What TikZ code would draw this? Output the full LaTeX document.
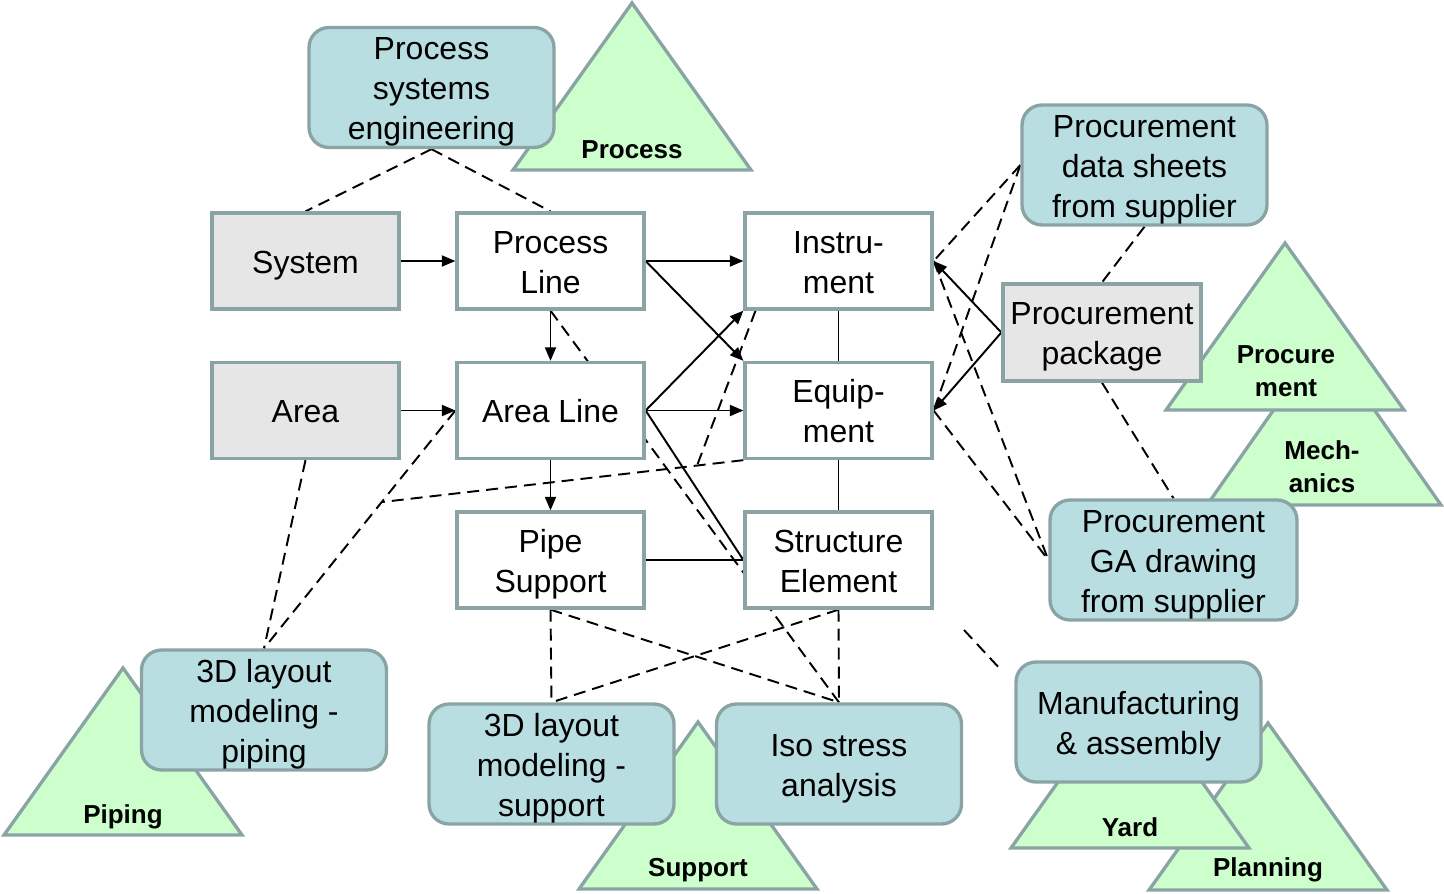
\documentclass[tikz,border=0pt]{standalone}
\usepackage{fontspec}
\setmainfont{Liberation Sans}
\usetikzlibrary{arrows.meta,calc}
\definecolor{bordc}{RGB}{138,164,166}
\definecolor{bluef}{RGB}{185,222,226}
\definecolor{greenf}{RGB}{204,255,204}
\definecolor{grayf}{RGB}{230,230,230}
\pgfdeclarelayer{tri}
\pgfdeclarelayer{lines}
\pgfsetlayers{tri,lines,main}
\newcommand\lstrut{\rule[-0.24em]{0pt}{1.24em}}
\tikzset{
 boxbase/.style={draw=bordc, line width=1.9pt, inner sep=0pt, align=center, font=\fontsize{18.2}{22.8}\selectfont},
 wbox/.style={boxbase, fill=white, minimum width=3.74cm, minimum height=1.92cm},
 gbox/.style={boxbase, fill=grayf, minimum width=3.74cm, minimum height=1.92cm},
 rbox/.style={boxbase, fill=bluef, rounded corners=0.4cm, minimum width=4.9cm, minimum height=2.4cm},
 greentri/.style={draw=bordc, fill=greenf, line width=1.9pt, line join=miter},
 trilabel/.style={inner sep=0pt, align=center, font=\bfseries\fontsize{14.8}{18.8}\selectfont},
 link/.style={line width=1.1pt},
 arr/.style={link, -{Triangle[length=0.27cm,width=0.22cm]}},
 dlink/.style={link, dash pattern=on 0.24cm off 0.14cm},
}
\begin{document}
\begin{tikzpicture}[x=0.02cm,y=-0.02cm]
\useasboundingbox (0,0) rectangle (1444,893);
% ---------- triangles ----------
\begin{pgfonlayer}{tri}
\draw[greentri] (632,3) -- (751,170) -- (513,170) -- cycle;
\node[trilabel] (tproc) at (632,150) {Process};
\draw[greentri] (1324,338) -- (1441,505) -- (1207,505) -- cycle;
\node[trilabel] (tmech) at (1322,467) {Mech-\\anics};
\draw[greentri] (1285,243) -- (1404,410) -- (1166,410) -- cycle;
\node[trilabel] (tprocu) at (1286,371) {Procure\\ment};
\draw[greentri] (1268,723) -- (1387,890) -- (1149,890) -- cycle;
\node[trilabel] (tplan) at (1268,870) {Planning};
\draw[greentri] (1130,681) -- (1249,848) -- (1011,848) -- cycle;
\node[trilabel] (tyard) at (1130,827) {Yard};
\draw[greentri] (123,668) -- (242,835) -- (4,835) -- cycle;
\node[trilabel] (tpip) at (123,817) {Piping};
\draw[greentri] (698,722) -- (817,889) -- (579,889) -- cycle;
\node[trilabel] (tsup) at (698,870) {Support};
\end{pgfonlayer}
% ---------- boxes ----------
\node[rbox] (pse) at (431.5,87.5) {\lstrut Process\\systems\\engineering\lstrut};
\node[gbox] (sys) at (305.5,261) {\lstrut System\lstrut};
\node[wbox] (pl) at (550.5,261) {\lstrut Process\\Line\lstrut};
\node[wbox] (ins) at (838.5,261) {\lstrut Instru-\\ment\lstrut};
\node[gbox] (area) at (305.5,410.5) {\lstrut Area\lstrut};
\node[wbox] (al) at (550.5,410.5) {\lstrut Area Line\lstrut};
\node[wbox] (eq) at (838.5,410.5) {\lstrut Equip-\\ment\lstrut};
\node[wbox] (ps) at (550.5,560) {\lstrut Pipe\\Support\lstrut};
\node[wbox] (se) at (838.5,560) {\lstrut Structure\\Element\lstrut};
\node[rbox] (ds) at (1144.5,165) {\lstrut Procurement\\data sheets\\from supplier\lstrut};
\node[gbox, minimum width=3.96cm, minimum height=1.94cm] (pp) at (1102,332.5) {\lstrut Procurement\\package\lstrut};
\node[rbox, minimum width=4.94cm] (ga) at (1173.5,560) {\lstrut Procurement\\GA drawing\\from supplier\lstrut};
\node[rbox] (mfg) at (1138.5,722) {\lstrut Manufacturing\\\& assembly\lstrut};
\node[rbox] (lp) at (264,710) {\lstrut 3D layout\\modeling -\\piping\lstrut};
\node[rbox] (lsup) at (551.5,764) {\lstrut 3D layout\\modeling -\\support\lstrut};
\node[rbox] (iso) at (839,764) {\lstrut Iso stress\\analysis\lstrut};
% ---------- connectors ----------
\begin{pgfonlayer}{lines}
\coordinate (J) at ($(al.west)!0.385!(lp.north)$);
\coordinate (K) at ($(eq.south west)!0.128!(J)$);
\coordinate (ib) at ($(ins.south west)!0.064!(ins.south east)$);
\coordinate (S1) at (964,630);
\coordinate (S2) at ($(mfg.north west)+(-12,11)$);
% solid
\draw[arr] (sys.east) -- (pl.west);
\draw[arr] (area.east) -- (al.west);
\draw[arr] (pl.south) -- (al.north);
\draw[arr] (al.south) -- (ps.north);
\draw[arr] (pl.east) -- (ins.west);
\draw[arr] (pl.east) -- (eq.north west);
\draw[arr] (al.east) -- (ins.south west);
\draw[arr] (al.east) -- (eq.west);
\draw[link] (al.east) -- (se.west);
\draw[link] (ps.east) -- (se.west);
\draw[link] (ins.south) -- (eq.north);
\draw[link] (eq.south) -- (se.north);
\draw[arr] (pp.west) -- (ins.east);
\draw[arr] (pp.west) -- (eq.east);
% dashed
\draw[dlink] (pse.south) -- (sys.north);
\draw[dlink] (pse.south) -- (pl.north);
\draw[dlink] (pl.south) -- (iso.north);
\draw[dlink] (ps.south) -- (lsup.north);
\draw[dlink] (ps.south) -- (iso.north);
\draw[dlink] (se.south) -- (lsup.north);
\draw[dlink] (se.south) -- (iso.north);
\draw[dlink] (area.south) -- (lp.north);
\draw[dlink] (al.west) -- (lp.north);
\draw[dlink] (eq.south west) -- (J);
\draw[dlink] (ib) -- (K);
\draw[dlink] (ds.west) -- (ins.east);
\draw[dlink] (ds.west) -- (eq.east);
\draw[dlink] (ins.east) -- (ga.west);
\draw[dlink] (eq.east) -- (ga.west);
\draw[dlink] (ds.south) -- (pp.north);
\draw[dlink] (pp.south) -- (ga.north);
\draw[dlink] (S1) -- (S2);
\end{pgfonlayer}
\end{tikzpicture}
\end{document}
